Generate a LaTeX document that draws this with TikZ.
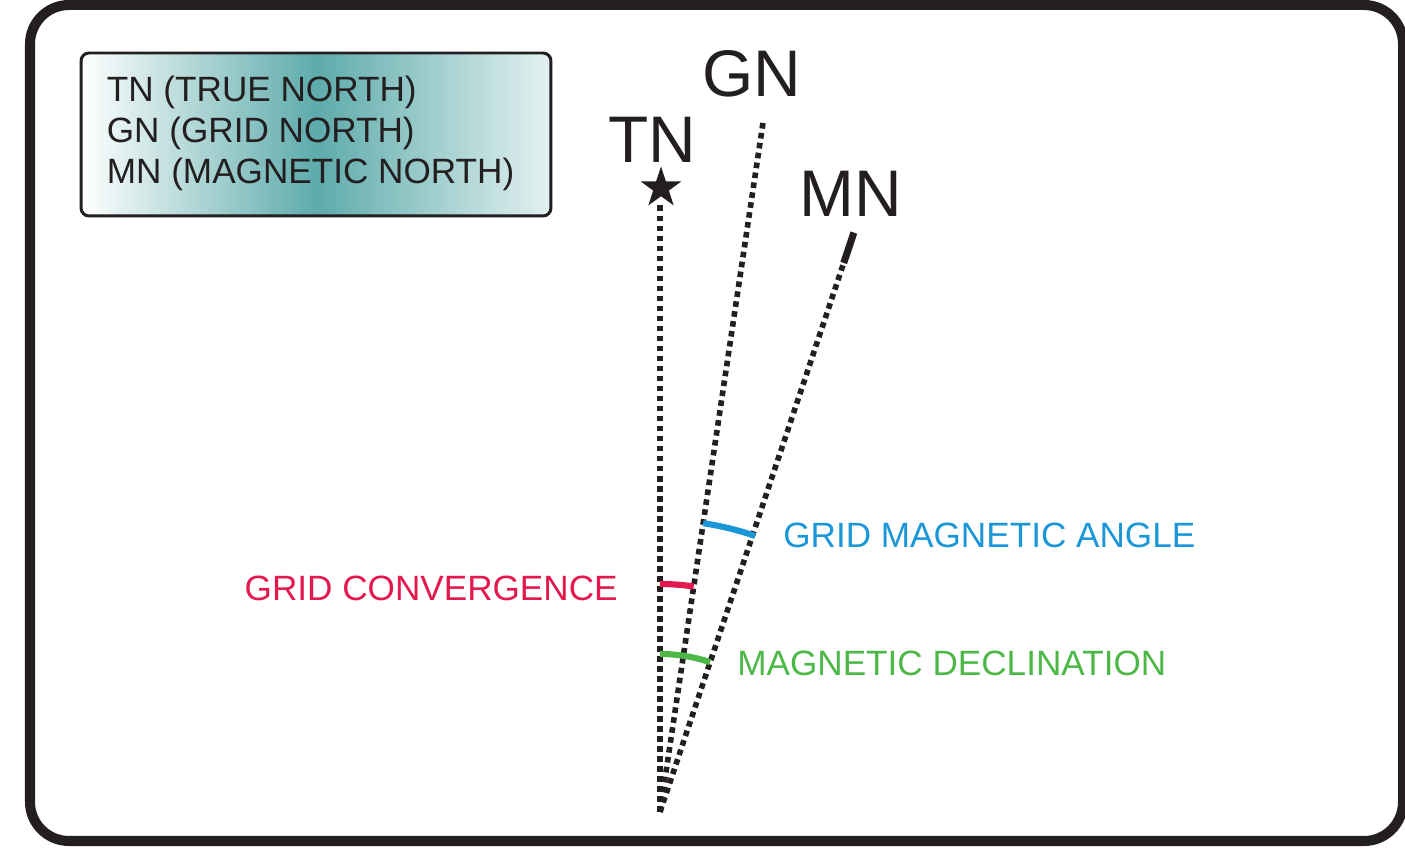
\documentclass[tikz,border=0pt]{standalone}
\usepackage{fontspec}
\setmainfont{Liberation Sans}
\usepackage{xcolor}
\usepackage{tikz}
\usetikzlibrary{shapes.geometric, positioning, calc}
\definecolor{northink}{HTML}{231F20}
\definecolor{northblue}{HTML}{1B96D6}
\definecolor{northred}{HTML}{E3194E}
\definecolor{northgreen}{HTML}{4DB848}
\definecolor{northteal}{HTML}{5EABAB}
\definecolor{northpale}{HTML}{E4F1F1}

\begin{document}
\begin{tikzpicture}[
    x=0.02cm, y=0.02cm,
    frame/.style={draw=northink, line width=5.7pt, rounded corners=0.78cm},
    legendbox/.style={
      rectangle, rounded corners=0.16cm, draw=northink, line width=1.7pt,
      left color=white, right color=northpale, middle color=northteal,
      minimum width=9.4cm, minimum height=3.26cm, inner sep=0pt
    },
    legendtext/.style={font=\fontsize{20}{24}\selectfont, text=northink, inner sep=0pt, anchor=base west},
    north/.style={font=\fontsize{37.5}{45}\selectfont, text=northink, inner sep=0pt, anchor=base},
    dotline/.style={draw=northink, line width=3.2pt, dash pattern=on 3.2pt off 2.5pt},
    angarc/.style={line width=3.5pt},
    anglabel/.style={font=\fontsize{20}{24}\selectfont, inner sep=0pt},
  ]
  \useasboundingbox (0,0) rectangle (1405,848);
  \draw[frame] (30,7) rectangle (1403,843);

  % legend
  \node[legendbox] (legend) at (316,713.5) {};
  \node[legendtext] (tnkey) at ($(legend.north west)+(27,-50)$) {TN (TRUE NORTH)};
  \node[legendtext] (gnkey) at ($(tnkey.base west)+(0,-41)$) {GN (GRID NORTH)};
  \node[legendtext] (mnkey) at ($(gnkey.base west)+(0,-41)$) {MN (MAGNETIC NORTH)};

  % north lines
  \coordinate (O) at (660,36);
  \coordinate (tn) at (660,643);
  \coordinate (gn) at ($(O)+(81.5:698)$);
  \coordinate (mn) at ($(O)+(71.5:579)$);
  \coordinate (mntip) at ($(O)+(71.5:611)$);
  \draw[dotline] (O) -- (tn);
  \draw[dotline] (O) -- (gn);
  \draw[dotline] (O) -- (mn);
  \draw[northink, line width=4pt] (mn) -- (mntip);

  \node[star, star points=5, star point ratio=2.6, fill=northink, minimum size=0.86cm, inner sep=0pt] (tnstar) at (661,660) {};
  \node[north] (tnlabel) at (652,685) {TN};
  \node[north] (gnlabel) at (752,751) {GN};
  \node[north] (mnlabel) at (851,631) {MN};

  % angles
  \draw[angarc, northblue] ($(O)+(81.5:292)$) arc[start angle=81.5, end angle=71, radius=292];
  \draw[angarc, northred] ($(O)+(90:228)$) arc[start angle=90, end angle=81.5, radius=228];
  \draw[angarc, northgreen] ($(O)+(90:158)$) arc[start angle=90, end angle=71.5, radius=158];

  \node[anglabel, text=northblue, anchor=west] (gmalabel) at (783,313) {GRID MAGNETIC ANGLE};
  \node[anglabel, text=northred, anchor=east] (gclabel) at (618,260) {GRID CONVERGENCE};
  \node[anglabel, text=northgreen, anchor=west] (mdlabel) at (737,185) {MAGNETIC DECLINATION};
\end{tikzpicture}
\end{document}
